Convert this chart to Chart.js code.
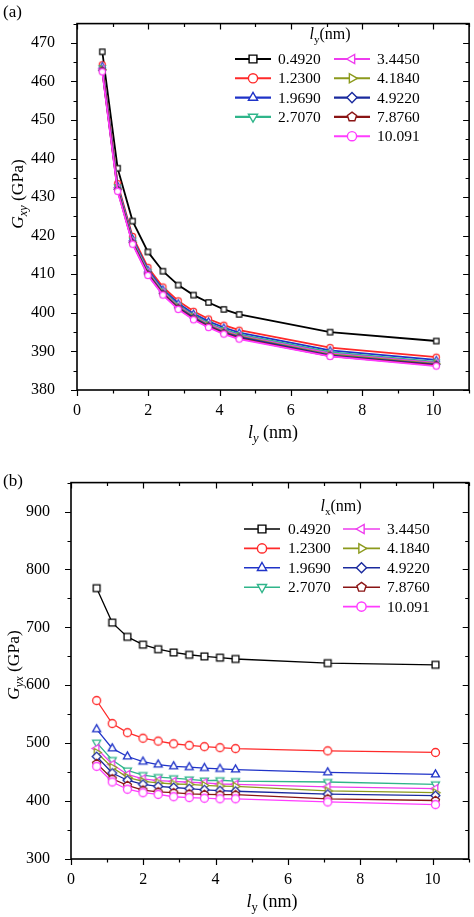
<!DOCTYPE html>
<html>
<head>
<meta charset="utf-8">
<script src="https://cdn.jsdelivr.net/npm/chart.js@4.4.0/dist/chart.umd.min.js"></script>
<style>
  html, body { margin: 0; padding: 0; background: #fff; }
  canvas { display: block; }
</style>
</head>
<body>
<canvas id="chartA" width="474" height="460"></canvas>
<canvas id="chartB" width="474" height="457"></canvas>
<script>
// ---- data ----
const ly = [0.71, 1.14, 1.56, 1.99, 2.41, 2.84, 3.27, 3.69, 4.12, 4.55, 7.10, 10.08];
const seriesLabels = ['0.4920', '1.2300', '1.9690', '2.7070', '3.4450', '4.1840', '4.9220', '7.8760', '10.091'];

// (a) Gxy (GPa)
const gxy_04920 = [467.7, 437.5, 423.8, 415.8, 410.8, 407.2, 404.6, 402.7, 400.9, 399.6, 395.0, 392.7];
const gxy_12300 = [464.3, 433.5, 419.8, 411.8, 406.7, 403.1, 400.4, 398.4, 396.8, 395.5, 391.0, 388.5];
const gxy_19690 = [464.0, 433.0, 419.3, 411.2, 406.1, 402.5, 399.8, 397.8, 396.2, 394.9, 390.3, 387.8];
const gxy_27070 = [463.6, 432.7, 418.9, 410.8, 405.7, 402.0, 399.4, 397.3, 395.7, 394.4, 389.8, 387.3];
const gxy_34450 = [463.3, 432.4, 418.6, 410.5, 405.4, 401.7, 399.1, 397.0, 395.4, 394.1, 389.5, 387.0];
const gxy_41840 = [463.1, 432.2, 418.4, 410.3, 405.2, 401.5, 398.9, 396.8, 395.1, 393.9, 389.2, 386.8];
const gxy_49220 = [462.9, 432.0, 418.2, 410.1, 405.0, 401.3, 398.7, 396.6, 394.9, 393.7, 389.0, 386.6];
const gxy_78760 = [462.7, 431.7, 418.0, 409.9, 404.8, 401.1, 398.4, 396.4, 394.7, 393.4, 388.8, 386.4];
const gxy_10091 = [462.5, 431.5, 417.8, 409.7, 404.6, 400.9, 398.2, 396.2, 394.5, 393.2, 388.7, 386.2];

// (b) Gyx (GPa)
const gyx_04920 = [767.7, 708.2, 683.6, 670.1, 662.3, 656.7, 652.7, 649.9, 647.7, 645.4, 638.2, 635.4];
const gyx_12300 = [573.7, 533.9, 518.2, 508.6, 503.6, 499.0, 496.3, 494.0, 492.3, 490.7, 486.8, 484.0];
const gyx_19690 = [524.0, 491.0, 477.0, 468.0, 463.0, 460.0, 458.5, 457.0, 455.5, 454.5, 449.5, 446.0];
const gyx_27070 = [501.0, 471.0, 453.0, 445.0, 441.5, 439.5, 437.5, 435.5, 436.0, 434.5, 433.0, 429.0];
const gyx_34450 = [491.0, 463.5, 446.0, 438.5, 435.5, 434.0, 432.5, 431.5, 429.5, 429.0, 424.5, 421.5];
const gyx_41840 = [484.0, 458.0, 441.0, 434.0, 431.5, 429.5, 429.0, 427.0, 426.0, 425.5, 417.5, 414.5];
const gyx_49220 = [477.0, 448.5, 436.0, 429.0, 425.5, 423.5, 421.5, 419.5, 418.0, 417.0, 412.0, 409.5];
const gyx_78760 = [465.0, 438.5, 427.0, 419.0, 416.0, 414.5, 412.5, 411.5, 411.0, 411.0, 404.0, 401.0];
const gyx_10091 = [460.0, 433.0, 420.5, 414.5, 411.5, 407.5, 406.0, 405.0, 404.0, 404.0, 398.5, 394.0];

const xTicks = [0, 2, 4, 6, 8, 10];
const gxyTicks = [380, 390, 400, 410, 420, 430, 440, 450, 460, 470];
const gyxTicks = [300, 400, 500, 600, 700, 800, 900];

// ---- styles ----
const SERIF = '"Liberation Serif", "DejaVu Serif", serif';
const colors = ['#000000', '#ff2a2a', '#1f33c8', '#2fb58a', '#ee3cee', '#8c9a1c', '#1a2a9e', '#8a1414', '#ff3cff'];
const shapes = ['square', 'circle', 'up', 'down', 'left', 'right', 'diamond', 'pentagon', 'circle'];

function markerPath(ctx, shape, x, y, r) {
  ctx.beginPath();
  if (shape === 'square') {
    ctx.rect(x - r * 0.85, y - r * 0.85, r * 1.7, r * 1.7);
  } else if (shape === 'circle') {
    ctx.arc(x, y, r, 0, Math.PI * 2);
  } else {
    var n = 3, start = -90, rr = r * 1.15;
    if (shape === 'down') start = 90;
    if (shape === 'left') start = 180;
    if (shape === 'right') start = 0;
    if (shape === 'diamond') { n = 4; rr = r * 1.1; }
    if (shape === 'pentagon') { n = 5; rr = r * 1.05; }
    for (var i = 0; i < n; i++) {
      var ang = (start + i * 360 / n) * Math.PI / 180;
      var px = x + rr * Math.cos(ang), py = y + rr * Math.sin(ang);
      if (i === 0) ctx.moveTo(px, py); else ctx.lineTo(px, py);
    }
    ctx.closePath();
  }
}

function drawMarker(ctx, shape, x, y, r, color, lw) {
  ctx.save();
  markerPath(ctx, shape, x, y, r);
  ctx.fillStyle = '#fff';
  ctx.fill();
  ctx.strokeStyle = color;
  ctx.lineWidth = lw;
  ctx.stroke();
  ctx.restore();
}

// marker image used as pointStyle so the library places it on the data
function markerCanvas(shape, r, color, lw) {
  var s = Math.ceil(r * 2.6 + lw * 2) + 2;
  var c = document.createElement('canvas');
  c.width = s; c.height = s;
  drawMarker(c.getContext('2d'), shape, s / 2, s / 2, r, color, lw);
  return c;
}

function fontFor(p, size) {
  return (p.it ? 'italic ' : '') + (p.sub ? size * 0.7 : size) + 'px ' + SERIF;
}

function richText(ctx, parts, x, y, size, rotate) {
  ctx.save();
  ctx.translate(x, y);
  if (rotate) ctx.rotate(-Math.PI / 2);
  var w = 0;
  parts.forEach(function (p) { ctx.font = fontFor(p, size); w += ctx.measureText(p.t).width; });
  var cx = -w / 2;
  ctx.textBaseline = 'middle';
  ctx.textAlign = 'left';
  ctx.fillStyle = '#000';
  parts.forEach(function (p) {
    ctx.font = fontFor(p, size);
    ctx.fillText(p.t, cx, p.sub ? size * 0.32 : 0);
    cx += ctx.measureText(p.t).width;
  });
  ctx.restore();
}

function buildChart(id, cfg) {
  var datasets = cfg.series.map(function (vals, i) {
    return {
      label: seriesLabels[i],
      data: ly.map(function (x, k) { return { x: x, y: vals[k] }; }),
      borderColor: colors[i],
      backgroundColor: colors[i],
      borderWidth: cfg.lineWidth,
      pointStyle: markerCanvas(shapes[i], cfg.markR, colors[i], cfg.markLw),
      pointRadius: cfg.markR,
      pointHoverRadius: cfg.markR,
      tension: 0,
      order: 8 - i
    };
  });

  var decor = {
    id: 'decor',
    afterDatasetsDraw: function (chart) {
      var ctx = chart.ctx, a = chart.chartArea, xs = chart.scales.x, ys = chart.scales.y;
      ctx.save();
      ctx.strokeStyle = '#000';
      ctx.lineWidth = 1.2;
      ctx.beginPath();
      // x ticks: bottom outward, top inward
      for (var v = xs.min; v <= xs.max + 1e-9; v += cfg.xMinor) {
        var px = Math.round(xs.getPixelForValue(v)) + 0.5;
        var len = xTicks.indexOf(Math.round(v * 1000) / 1000) >= 0 ? 6 : 3.5;
        ctx.moveTo(px, a.bottom); ctx.lineTo(px, a.bottom + len);
        ctx.moveTo(px, a.top); ctx.lineTo(px, a.top + len);
      }
      // y ticks: left outward, right inward
      for (var w = ys.min; w <= ys.max + 1e-9; w += cfg.yMinor) {
        var py = Math.round(ys.getPixelForValue(w)) + 0.5;
        var l2 = cfg.yTicks.indexOf(w) >= 0 ? 6 : 3.5;
        ctx.moveTo(a.left, py); ctx.lineTo(a.left - l2, py);
        ctx.moveTo(a.right, py); ctx.lineTo(a.right - l2, py);
      }
      ctx.stroke();
      ctx.lineWidth = 1.6;
      ctx.strokeRect(a.left, a.top, a.right - a.left, a.bottom - a.top);
      ctx.restore();
    },
    afterDraw: function (chart) {
      var ctx = chart.ctx;
      // panel tag
      ctx.save();
      ctx.font = '17px ' + SERIF;
      ctx.fillStyle = '#000';
      ctx.textBaseline = 'middle';
      ctx.fillText(cfg.tag, 3, cfg.tagY);
      ctx.restore();
      // axis titles
      richText(ctx, cfg.xTitle, cfg.xTitlePos[0], cfg.xTitlePos[1], 18, false);
      richText(ctx, cfg.yTitle, cfg.yTitlePos[0], cfg.yTitlePos[1], 17.5, true);
      // legend
      var L = cfg.legend;
      richText(ctx, L.title, L.titleX, L.titleY, 16, false);
      ctx.save();
      ctx.font = '15.5px ' + SERIF;
      ctx.textBaseline = 'middle';
      ctx.fillStyle = '#000';
      seriesLabels.forEach(function (lab, i) {
        var col = i < 4 ? L.cols[0] : L.cols[1];
        var row = i < 4 ? i : i - 4;
        var y = L.rowY + row * L.rowStep;
        ctx.strokeStyle = colors[i];
        ctx.lineWidth = cfg.lineWidth + 0.3;
        ctx.beginPath();
        ctx.moveTo(col[0], y); ctx.lineTo(col[1], y);
        ctx.stroke();
        drawMarker(ctx, shapes[i], (col[0] + col[1]) / 2, y, 4.6, colors[i], 1.4);
        ctx.fillText(lab, col[2], y + 1);
      });
      ctx.restore();
    }
  };

  return new Chart(document.getElementById(id), {
    type: 'line',
    data: { datasets: datasets },
    options: {
      responsive: false,
      animation: false,
      events: [],
      layout: { padding: cfg.padding },
      plugins: { legend: { display: false }, tooltip: { enabled: false } },
      scales: {
        x: {
          type: 'linear', min: 0, max: 11,
          grid: { display: false }, border: { display: false },
          afterBuildTicks: function (s) { s.ticks = xTicks.map(function (v) { return { value: v }; }); },
          afterFit: function (s) { s.height = cfg.xAxisH; },
          ticks: { color: '#000', font: { family: SERIF, size: 16 }, padding: cfg.xPad, maxRotation: 0, autoSkip: false }
        },
        y: {
          type: 'linear', min: cfg.yMin, max: cfg.yMax,
          grid: { display: false }, border: { display: false },
          afterBuildTicks: function (s) { s.ticks = cfg.yTicks.map(function (v) { return { value: v }; }); },
          afterFit: function (s) { s.width = cfg.yAxisW; },
          ticks: { color: '#000', font: { family: SERIF, size: 16 }, padding: cfg.yPad, autoSkip: false }
        }
      }
    },
    plugins: [decor]
  });
}

buildChart('chartA', {
  series: [gxy_04920, gxy_12300, gxy_19690, gxy_27070, gxy_34450, gxy_41840, gxy_49220, gxy_78760, gxy_10091],
  yMin: 380, yMax: 475, yTicks: gxyTicks, yMinor: 5, xMinor: 1,
  lineWidth: 1.8, markR: 3.1, markLw: 1.2,
  padding: { top: 1, right: 1, left: 0, bottom: 0 },
  yAxisW: 77, xAxisH: 70, xPad: 3, yPad: 14,
  tag: '(a)', tagY: 13,
  xTitle: [{ t: 'l', it: true }, { t: 'y', it: true, sub: true }, { t: ' (nm)' }],
  xTitlePos: [273, 433],
  yTitle: [{ t: 'G', it: true }, { t: 'xy', it: true, sub: true }, { t: ' (GPa)' }],
  yTitlePos: [18, 194],
  legend: {
    title: [{ t: 'l', it: true }, { t: 'y', sub: true }, { t: '(nm)' }],
    titleX: 330, titleY: 35,
    rowY: 59, rowStep: 19.3,
    cols: [[235, 271, 278], [334, 370, 377]]
  }
});

buildChart('chartB', {
  series: [gyx_04920, gyx_12300, gyx_19690, gyx_27070, gyx_34450, gyx_41840, gyx_49220, gyx_78760, gyx_10091],
  yMin: 300, yMax: 950, yTicks: gyxTicks, yMinor: 50, xMinor: 1,
  lineWidth: 1.3, markR: 4.0, markLw: 1.3,
  padding: { top: 13, right: 1, left: 0, bottom: 0 },
  yAxisW: 71, xAxisH: 58, xPad: 3, yPad: 13,
  tag: '(b)', tagY: 22,
  xTitle: [{ t: 'l', it: true }, { t: 'y', sub: true }, { t: ' (nm)' }],
  xTitlePos: [272, 442],
  yTitle: [{ t: 'G', it: true }, { t: 'yx', it: true, sub: true }, { t: ' (GPa)' }],
  yTitlePos: [14, 205],
  legend: {
    title: [{ t: 'l', it: true }, { t: 'x', sub: true }, { t: '(nm)' }],
    titleX: 341, titleY: 47,
    rowY: 69, rowStep: 19.4,
    cols: [[244, 280, 288], [343, 380, 387]]
  }
});
</script>
</body>
</html>
